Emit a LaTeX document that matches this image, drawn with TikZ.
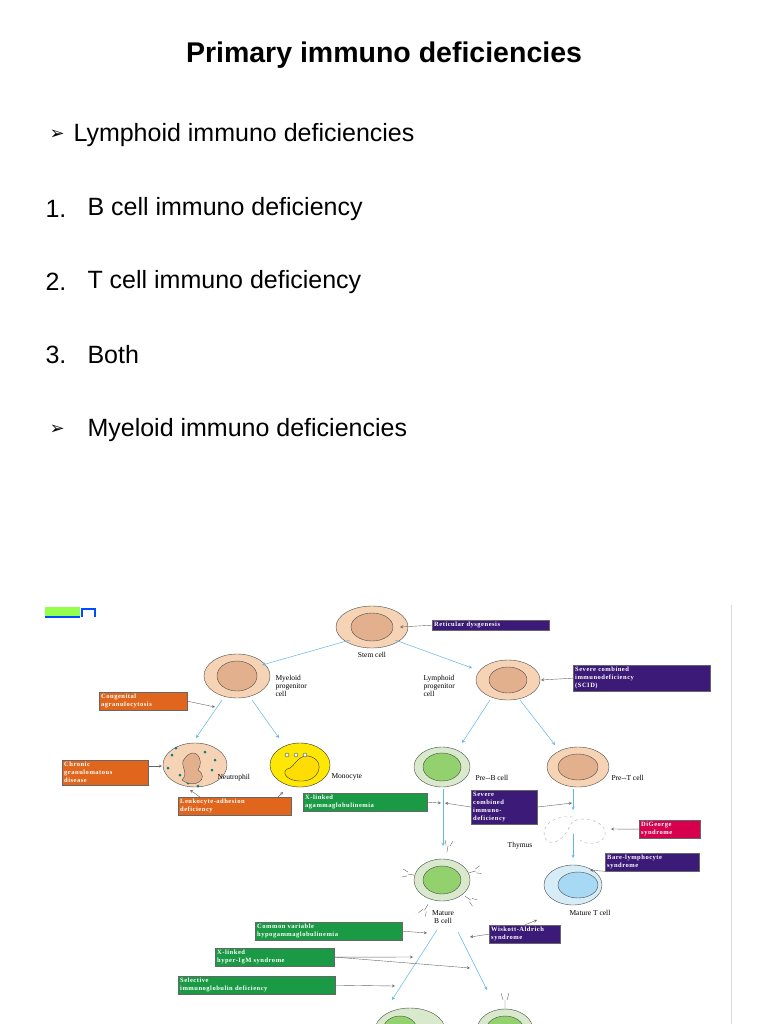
\documentclass[tikz,border=0pt]{standalone}
\usetikzlibrary{shapes.geometric}
\usepackage{fontspec}
\setmainfont{Liberation Sans}
\newfontfamily\serifd[LetterSpace=8]{Liberation Serif}
\newfontfamily\serifl{Liberation Serif}
\newfontfamily\dv{DejaVu Sans}
\definecolor{pur}{HTML}{3B1A78}
\definecolor{ora}{HTML}{E0661E}
\definecolor{grn}{HTML}{1A9A45}
\definecolor{pnk}{HTML}{D6004F}
\definecolor{peach}{HTML}{F7D3B5}
\definecolor{peachin}{HTML}{E2B08C}
\definecolor{lgr}{HTML}{D8EACB}
\definecolor{mgr}{HTML}{93D06E}
\definecolor{lbl}{HTML}{D6ECF7}
\definecolor{mbl}{HTML}{A7D8F4}
\definecolor{arr}{HTML}{5FB8E6}
\begin{document}
\begin{tikzpicture}[x=1pt,y=-1pt,
 box/.style={draw=black!60,line width=0.4pt,text=white,font=\serifd\bfseries\fontsize{6.5}{8}\selectfont,align=left,anchor=north west,inner sep=2pt,text width=#1-4pt},
 lab/.style={font=\serifl\fontsize{7.5}{8}\selectfont,align=left},
 blarr/.style={draw=arr,->,>=stealth,line width=0.5pt},
 grarr/.style={draw=black!60,->,>=stealth,line width=0.4pt},
 bul/.style={font=\fontsize{25}{28}\selectfont,anchor=west}]
\useasboundingbox (0,0) rectangle (768,1024);
\fill[white] (0,0) rectangle (768,1024);
\node[font=\bfseries\fontsize{28.5}{32}\selectfont] (title) at (384,55) {Primary immuno deficiencies};
\node[bul] (a1) at (46,135) {\dv\fontsize{18}{20}\selectfont ➢};
\node[bul] (s1) at (70,135) {Lymphoid immuno deficiencies};
\node[bul] (n1) at (42,209) {1.};
\node[bul] (t1) at (84,209) {B cell immuno deficiency};
\node[bul] (n2) at (42,282) {2.};
\node[bul] (t2) at (84,282) {T cell immuno deficiency};
\node[bul] (n3) at (42,355) {3.};
\node[bul] (t3) at (84,355) {Both};
\node[bul] (a2) at (46,430) {\dv\fontsize{18}{20}\selectfont ➢};
\node[bul] (s2) at (84,430) {Myeloid immuno deficiencies};
% logo and side line
\fill[green!60!yellow!70] (45,607) rectangle (80,616);
\draw[blue!70!cyan,line width=1.5pt] (45,617) -- (80,617) (82,617) -- (82,609) -- (95,609) -- (95,617);
\draw[green!10!gray!30,line width=1pt] (731,605) -- (731,1024);
% cells
\tikzset{cell/.style={ellipse,draw=black!70,line width=0.4pt,minimum width=#1}}
\node[cell=72pt,minimum height=42pt,fill=peach] (stem) at (372,627) {};
\node[ellipse,draw=black!70,fill=peachin,minimum width=42pt,minimum height=28pt] at (372,627) {};
\node[lab] (stemL) at (372,655) {Stem cell};
\node[cell=66pt,minimum height=44pt,fill=peach] (mye) at (237,676) {};
\node[ellipse,draw=black!70,fill=peachin,minimum width=40pt,minimum height=30pt] at (237,676) {};
\node[lab,anchor=west] (myeL) at (272,686) {Myeloid\\progenitor\\cell};
\node[cell=64pt,minimum height=40pt,fill=peach] (lym) at (508,680) {};
\node[ellipse,draw=black!70,fill=peachin,minimum width=38pt,minimum height=26pt] at (508,680) {};
\node[lab,anchor=west] (lymL) at (420,686) {Lymphoid\\progenitor\\cell};
% neutrophil
\node[cell=64pt,minimum height=44pt,fill=peach] (neu) at (195,765) {};
\foreach \p in {(172,755),(180,775),(205,752),(212,770),(188,783),(168,768),(215,760),(198,786),(176,748)} \fill[teal] \p circle (1.5);
\draw[black!70,fill=peachin] (185,758) .. controls (195,745) and (205,760) .. (198,770) .. controls (210,778) and (195,790) .. (182,780) .. controls (190,772) and (178,765) .. (185,758);
\node[lab,anchor=west] (neuL) at (214,778) {Neutrophil};
\node[cell=60pt,minimum height=44pt,fill=yellow!90!orange,draw=black!80] (mono) at (300,765) {};
\draw[black!80,fill=yellow!80!orange] (290,768) .. controls (295,765) and (300,752) .. (312,757) .. controls (325,762) and (320,782) .. (300,781) .. controls (285,781) and (280,770) .. (290,768);
\foreach \x in {287,296,305} \draw[black!70,fill=white] (\x,755) circle (2);
\node[lab,anchor=west] (monoL) at (328,777) {Monocyte};
% pre B, pre T
\node[cell=56pt,minimum height=40pt,fill=lgr] (preB) at (442,767) {};
\node[ellipse,draw=black!70,fill=mgr,minimum width=38pt,minimum height=28pt] at (442,767) {};
\node[lab,anchor=west] (preBL) at (472,778) {Pre--B cell};
\node[cell=62pt,minimum height=40pt,fill=peach] (preT) at (578,767) {};
\node[ellipse,draw=black!70,fill=peachin,minimum width=40pt,minimum height=26pt] at (578,767) {};
\node[lab,anchor=west] (preTL) at (608,778) {Pre--T cell};
% thymus
\draw[black!30,dashed,line width=0.4pt] (573,817) .. controls (555,815) and (540,825) .. (545,838) .. controls (550,848) and (565,840) .. (570,825) .. controls (575,815) and (600,818) .. (605,830) .. controls (608,842) and (590,848) .. (580,840);
\node[lab] (thyL) at (520,846) {Thymus};
% mature B, T
\node[cell=56pt,minimum height=42pt,fill=lgr] (matB) at (442,880) {};
\node[ellipse,draw=black!70,fill=mgr,minimum width=38pt,minimum height=28pt] at (442,880) {};
\foreach \a in {120,35,190,-15,-80} {
  \draw[black!60,line width=0.4pt,shift={(442,880)},rotate=-\a] (28,0) -- (35,0) (35,-2) -- (40,-4) (35,2) -- (40,4);}
\node[lab,align=center] (matBL) at (443,917) {Mature\\B cell};
\node[cell=58pt,minimum height=40pt,fill=lbl] (matT) at (573,885) {};
\node[ellipse,draw=black!70,fill=mbl,minimum width=40pt,minimum height=26pt] at (578,885) {};
\node[lab,anchor=west] (matTL) at (566,913) {Mature T cell};
% bottom cells
\node[cell=70pt,minimum height=44pt,fill=lgr] (plasma) at (410,1030) {};
\node[ellipse,draw=black!70,fill=mgr,minimum width=34pt,minimum height=28pt] at (400,1030) {};
\node[cell=56pt,minimum height=42pt,fill=lgr] (memB) at (505,1030) {};
\node[ellipse,draw=black!70,fill=mgr,minimum width=38pt,minimum height=28pt] at (505,1030) {};
\draw[black!60] (505,1009) -- (505,1000) (503,1000) -- (501,993) (507,1000) -- (509,993);
% blue arrows
\draw[blarr] (350,640) -- (262,665);
\draw[blarr] (395,640) -- (472,668);
\draw[blarr] (222,700) -- (196,738);
\draw[blarr] (252,700) -- (279,738);
\draw[blarr] (490,700) -- (462,743);
\draw[blarr] (520,700) -- (555,745);
\draw[blarr] (443,789) -- (443,846);
\draw[blarr] (573,789) -- (573,810);
\draw[blarr] (573,834) -- (573,858);
\draw[blarr] (437,930) -- (392,1000);
\draw[blarr] (458,932) -- (487,990);
% boxes
\node[box=117pt,fill=pur] (ret) at (432,620) {Reticular dysgenesis};
\node[box=137pt,fill=pur] (scid) at (573,665) {Severe combined\\immunodeficiency\\(SCID)};
\node[box=88pt,fill=ora] (cong) at (99,692) {Congenital\\agranulocytosis};
\node[box=86pt,fill=ora] (cgd) at (62,760) {Chronic\\granulomatous\\disease};
\node[box=113pt,fill=ora] (lad) at (178,797) {Leukocyte-adhesion\\deficiency};
\node[box=124pt,fill=grn] (xla) at (303,793) {X-linked\\agammaglobulinemia};
\node[box=66pt,fill=pur] (scid2) at (471,790) {Severe\\combined\\immuno-\\deficiency};
\node[box=61pt,fill=pnk] (dig) at (639,820) {DiGeorge\\syndrome};
\node[box=94pt,fill=pur] (bare) at (605,853) {Bare-lymphocyte\\syndrome};
\node[box=71pt,fill=pur] (wis) at (489,925) {Wiskott-Aldrich\\syndrome};
\node[box=147pt,fill=grn] (cvid) at (255,922) {Common variable\\hypogammaglobulinemia};
\node[box=119pt,fill=grn] (hyper) at (215,948) {X-linked\\hyper-IgM syndrome};
\node[box=157pt,fill=grn] (sel) at (178,976) {Selective\\immunoglobulin deficiency};
% grey arrows
\draw[grarr] (ret.west) -- (400,627);
\draw[grarr] (scid.west) -- (541,680);
\draw[grarr] (cong.east) -- (215,707);
\draw[grarr] (cgd.east |- 0,766) -- (162,766);
\draw[grarr] (200,797) -- (190,790);
\draw[grarr] (278,797) -- (283,792);
\draw[grarr] (xla.east) -- (441,803);
\draw[grarr] (scid2.west) -- (445,803);
\draw[grarr] (scid2.east) -- (572,803);
\draw[grarr] (dig.west) -- (611,829);
\draw[grarr] (bare.south west) -- (590,870);
\draw[grarr] (wis.north) -- (537,920);
\draw[grarr] (wis.west) -- (470,937);
\draw[grarr] (cvid.east) -- (427,933);
\draw[grarr] (hyper.east) -- (413,957);
\draw[grarr] (334,957) -- (470,968);
\draw[grarr] (sel.east) -- (395,986);
\end{tikzpicture}
\end{document}
